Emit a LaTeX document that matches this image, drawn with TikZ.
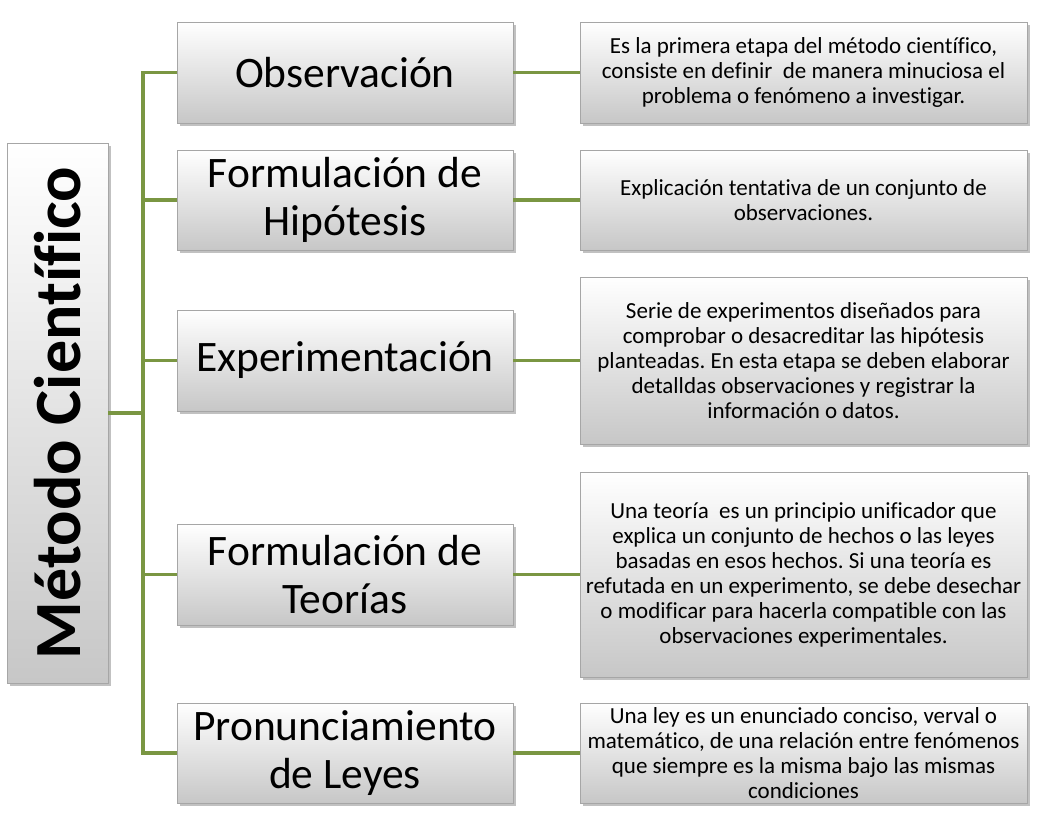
\documentclass[tikz,border=0pt]{standalone}
\usepackage{fontspec}
\setmainfont{Carlito}[Ligatures=CommonOff]
\usetikzlibrary{shadows}
\definecolor{linkgreen}{RGB}{122,150,66}
\frenchspacing
\begin{document}
\begin{tikzpicture}[x=1pt,y=-1pt,
  boxbase/.style={rectangle, draw=black!35, line width=0.6pt,
    top color=white, bottom color=black!22, inner sep=0pt,
    drop shadow={shadow xshift=2.5pt, shadow yshift=-2.5pt, opacity=0.35, fill=black!70}},
  titlebox/.style={boxbase, minimum width=101pt, minimum height=540pt},
  stepbox/.style={boxbase, minimum width=336pt, align=center,
    font=\fontsize{43.5}{48}\selectfont},
  descbox/.style={boxbase, minimum width=447pt, align=center,
    font=\fontsize{23}{25}\selectfont},
  link/.style={draw=linkgreen, line width=3.2pt}
]
\useasboundingbox (0,0) rectangle (1044,827);
\coordinate (tk) at (143,0);

\node[titlebox] (mc) at (57.5,413) {\rotatebox{90}{\fontsize{66}{70}\selectfont\bfseries Método Científico}};

\node[stepbox, minimum height=101pt] (obs) at (345,72.5) {Observación};
\node[stepbox, minimum height=100pt] (hip) at (345,200) {Formulación de\\Hipótesis};
\node[stepbox, minimum height=101pt] (exp) at (345,360.5) {Experimentación};
\node[stepbox, minimum height=101pt] (teo) at (345,574.5) {Formulación de\\Teorías};
\node[stepbox, minimum height=100pt] (ley) at (345,753) {Pronunciamiento\\de Leyes};

\node[descbox, minimum height=101pt] (d1) at (803.5,72.5) {Es la primera etapa del método científico,\\consiste en definir \ de manera minuciosa el\\problema o fenómeno a investigar.};
\node[descbox, minimum height=100pt] (d2) at (803.5,200) {Explicación tentativa de un conjunto de\\observaciones.};
\node[descbox, minimum height=167pt] (d3) at (803.5,360.5) {Serie de experimentos diseñados para\\comprobar o desacreditar las hipótesis\\planteadas. En esta etapa se deben elaborar\\detalldas observaciones y registrar la\\información o datos.};
\node[descbox, minimum height=205pt] (d4) at (803.5,574.5) {Una teoría \ es un principio unificador que\\explica un conjunto de hechos o las leyes\\basadas en esos hechos. Si una teoría es\\refutada en un experimento, se debe desechar\\o modificar para hacerla compatible con las\\observaciones experimentales.};
\node[descbox, minimum height=100pt] (d5) at (803.5,753) {Una ley es un enunciado conciso, verval o\\matemático, de una relación entre fenómenos\\que siempre es la misma bajo las mismas\\condiciones};

\draw[link] (mc.east) -- (mc.east -| tk);
\draw[link] (obs.west) -- (obs.west -| tk) -- (ley.west -| tk) -- (ley.west);
\draw[link] (hip.west) -- (hip.west -| tk);
\draw[link] (exp.west) -- (exp.west -| tk);
\draw[link] (teo.west) -- (teo.west -| tk);

\draw[link] (obs.east) -- (d1.west);
\draw[link] (hip.east) -- (d2.west);
\draw[link] (exp.east) -- (d3.west);
\draw[link] (teo.east) -- (d4.west);
\draw[link] (ley.east) -- (d5.west);
\end{tikzpicture}
\end{document}
